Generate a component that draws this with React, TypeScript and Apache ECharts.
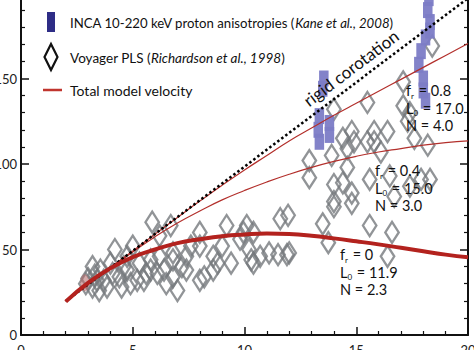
import React, { useEffect, useRef } from "react";
import * as echarts from "echarts";

// ---------- data ----------
const xTickValues = [0, 5, 10, 15, 20];
const yTickValues = [0, 50, 100, 150, 200];

// rigid corotation (L, V)
const rigidL = [2, 20];
const rigidV = [19.7, 197];

// model curves sampled at L
const modelL = [2, 3, 4, 5, 6, 7, 8, 9, 10, 11, 12, 13, 14, 15, 16, 17, 18, 19, 20];
const modelF08 = [19.7, 29.5, 39.4, 49.2, 59, 68.7, 78.3, 87.6, 96.5, 105, 113.5, 121, 128.5, 135.5, 142.5, 149.5, 156.5, 163.5, 170.5];
const modelF04 = [19.7, 29.5, 39, 48.5, 57.5, 65.5, 72.5, 79, 84.5, 89.5, 94, 98, 101.5, 104.5, 107, 109, 111, 112.5, 113.5];
const modelF0 = [19.5, 30.5, 39, 45.5, 50, 53.7, 56, 57.8, 58.8, 59.3, 59, 58, 56.5, 54.8, 53, 51, 49, 47, 45.5];

// Voyager PLS (L, V)
const voyagerL = [
  2.9, 3.0, 3.2, 3.2, 3.4, 3.5, 3.55, 3.85, 4.0, 4.2, 4.4, 4.5, 4.75, 4.75, 5.0, 5.2, 5.3, 5.5, 5.8, 5.8,
  5.87, 6.1, 6.2, 6.2, 6.4, 6.7, 6.8, 6.8, 6.8, 7.0, 7.4, 7.4, 7.6, 8.0, 8.0, 8.0, 8.2, 8.6, 8.6, 8.8,
  9.0, 9.2, 9.4, 9.8, 9.95, 10.1, 10.2, 10.3, 10.4, 10.4, 10.7, 11.1, 11.5, 11.6, 11.9, 11.95, 12.0,
  12.9, 12.9, 13.5, 13.75, 13.9, 14.0, 14.0, 14.0, 14.0, 14.4, 14.4, 14.6, 14.6, 14.8, 14.8, 14.8, 14.9,
  15.5, 15.5, 15.6, 15.6, 15.8, 15.8, 16.1, 16.4, 16.4, 16.5, 16.6, 16.7, 17.1, 17.1, 17.3, 17.4, 17.4,
  17.6, 17.9, 18.2, 18.3, 18.4,
  3.7, 4.1, 4.9, 5.6, 6.5, 7.2, 3.3, 4.6
];
const voyagerV = [
  30, 33, 28, 40, 32, 26, 38, 28, 42, 50, 34, 28, 46, 38, 52, 32, 42, 32, 38, 44,
  66, 36, 58, 46, 38, 64, 48, 34, 44, 26, 38, 46, 52, 60, 52, 32, 34, 46, 38, 42,
  52, 64, 42, 56, 60, 64, 50, 44, 42, 60, 46, 48, 47, 68, 47, 70, 48,
  102, 92, 65, 54, 105, 88, 78, 75, 132, 115, 89, 109, 98, 83, 77, 119, 113,
  113, 136, 91, 64, 113, 119, 107, 119, 46, 93, 60, 81, 148, 134, 125, 130, 87,
  115, 91, 111, 91, 169,
  32, 36, 30, 36, 30, 40, 35, 40
];

// INCA 10-220 keV proton anisotropies (L, V)
const incaL = [13.55, 13.5, 13.35, 13.3, 13.35, 13.8, 13.8, 18.25, 18.2, 18.3, 18.1, 17.9, 17.8, 18.0, 18.0, 18.1, 18.3];
const incaV = [150, 144, 128, 120, 113, 124, 117, 197, 190, 183, 174, 166, 158, 150, 143, 137, 178];

// Cassini point (L, V)
const extraL = [2.85];
const extraV = [30.5];

const labelFont = "Lato";
const OFF = 7; // chart div starts 7px above the page

function pairs(xs: number[], ys: number[]) {
  return xs.map((x, i) => [x, ys[i]]);
}

const annRich = {
  m: { fontSize: 14.5, fontFamily: labelFont, fill: "#111", lineHeight: 17.5 },
  s: { fontSize: 8, fontFamily: labelFont, fill: "#111", verticalAlign: "bottom", lineHeight: 17.5, padding: [0, 1, 0, 0] },
};

function annot(x: number, y0: number, val: string, val2: string, n: string) {
  return {
    type: "text",
    x,
    y: y0 + OFF - 9,
    style: {
      text: `{m|f}{s|r}{m| = ${val}}\n{m|L}{s|0}{m| = ${val2}}\n{m|${n}}`,
      rich: annRich,
      fontSize: 14.5,
      fontFamily: labelFont,
      fill: "#111",
      verticalAlign: "top",
    },
    z: 100,
  };
}

function legendText(y: number, text: string, size: number) {
  return {
    type: "text",
    x: 70,
    y: y + OFF,
    style: {
      text,
      fontSize: size,
      fontFamily: labelFont,
      fill: "#111",
      verticalAlign: "middle",
      rich: { i: { fontStyle: "italic", fontSize: size, fontFamily: labelFont, fill: "#111" } },
    },
    z: 100,
  };
}

export default function App() {
  const ref = useRef<HTMLDivElement>(null);
  useEffect(() => {
    if (!ref.current) return;
    const chart = echarts.init(ref.current, undefined, { renderer: "svg" });
    const axisColor = "#111";
    const tickCommon = {
      axisLine: { show: true, onZero: false, lineStyle: { color: axisColor, width: 2 } },
      axisTick: { show: true, inside: true, length: 8, lineStyle: { color: axisColor, width: 1.5 } },
      minorTick: { show: true, splitNumber: 5, length: 4, lineStyle: { color: axisColor, width: 1.2 } },
      splitLine: { show: false },
    };
    chart.setOption({
      animation: false,
      backgroundColor: "#fff",
      grid: { left: 21, right: 6, top: 0, bottom: 15, containLabel: false, outerBoundsMode: "none" },
      xAxis: {
        type: "value",
        min: xTickValues[0],
        max: xTickValues[xTickValues.length - 1],
        interval: 5,
        ...tickCommon,
        axisLabel: { margin: 8, fontSize: 13, fontFamily: labelFont, color: "#222" },
      },
      yAxis: [
        {
          type: "value",
          min: yTickValues[0],
          max: yTickValues[yTickValues.length - 1],
          interval: 50,
          position: "left",
          ...tickCommon,
          axisLabel: {
            margin: 4,
            fontSize: 13,
            fontFamily: labelFont,
            color: "#222",
            showMaxLabel: false,
          },
        },
        {
          type: "value",
          min: yTickValues[0],
          max: yTickValues[yTickValues.length - 1],
          interval: 50,
          position: "right",
          ...tickCommon,
          axisLabel: { show: false },
        },
      ],
      series: [
        {
          name: "Voyager PLS",
          type: "scatter",
          symbol: "diamond",
          symbolSize: [13.5, 21],
          data: pairs(voyagerL, voyagerV),
          itemStyle: { color: "rgba(255,255,255,0)", borderColor: "#76797d", borderWidth: 2.4 },
          z: 2,
        },
        {
          name: "INCA",
          type: "scatter",
          symbol: "rect",
          symbolSize: [9.5, 16],
          data: pairs(incaL, incaV),
          itemStyle: { color: "#7c7cc6", opacity: 0.95 },
          z: 3,
        },
        {
          name: "Cassini",
          type: "scatter",
          symbol: "circle",
          symbolSize: [9, 17],
          data: pairs(extraL, extraV),
          itemStyle: { color: "rgba(185,115,115,0.75)" },
          z: 3,
        },
        {
          name: "f0.8",
          type: "line",
          smooth: true,
          showSymbol: false,
          data: pairs(modelL, modelF08),
          lineStyle: { color: "#b3302c", width: 1.2 },
          z: 4,
        },
        {
          name: "f0.4",
          type: "line",
          smooth: true,
          showSymbol: false,
          data: pairs(modelL, modelF04),
          lineStyle: { color: "#b3302c", width: 1.2 },
          z: 4,
        },
        {
          name: "rigid",
          type: "line",
          showSymbol: false,
          data: pairs(rigidL, rigidV),
          lineStyle: { color: "#000", width: 2.5, type: [2.5, 2.5] },
          z: 5,
        },
        {
          name: "f0",
          type: "line",
          smooth: true,
          showSymbol: false,
          data: pairs(modelL, modelF0),
          lineStyle: { color: "#b3221e", width: 4 },
          z: 6,
        },
      ],
      graphic: [
        { type: "rect", shape: { x: 47, y: 12 + OFF, width: 8, height: 20 }, style: { fill: "#2e2d86" }, z: 100 },
        {
          type: "polygon",
          shape: { points: [[51, 44 + OFF], [57.5, 57 + OFF], [51, 70 + OFF], [44.5, 57 + OFF]] },
          style: { fill: "#fff", stroke: "#111", lineWidth: 2.2 },
          z: 100,
        },
        { type: "line", shape: { x1: 43, y1: 90 + OFF, x2: 62, y2: 90 + OFF }, style: { stroke: "#c0352e", lineWidth: 2.5 }, z: 100 },
        legendText(23, "INCA 10-220 keV proton anisotropies ({i|Kane et al., 2008})", 13.2),
        legendText(58, "Voyager PLS ({i|Richardson et al., 1998})", 13.5),
        legendText(90, "Total model velocity", 14),
        {
          type: "text",
          x: 351,
          y: 68 + OFF,
          rotation: (37 * Math.PI) / 180,
          style: { text: "rigid corotation", fontSize: 17, fontFamily: labelFont, fill: "#111", align: "center", verticalAlign: "middle" },
          z: 100,
        },
        annot(406, 91, "0.8", "17.0", "N = 4.0"),
        annot(375, 171, "0.4", "15.0", "N = 3.0"),
        annot(340, 255, "0", "11.9", "N = 2.3"),
      ],
    });
    return () => chart.dispose();
  }, []);
  return (
    <div
      ref={ref}
      style={{ position: "fixed", left: 0, top: -OFF, width: 474, height: 350 + OFF, background: "#fff" }}
    />
  );
}
